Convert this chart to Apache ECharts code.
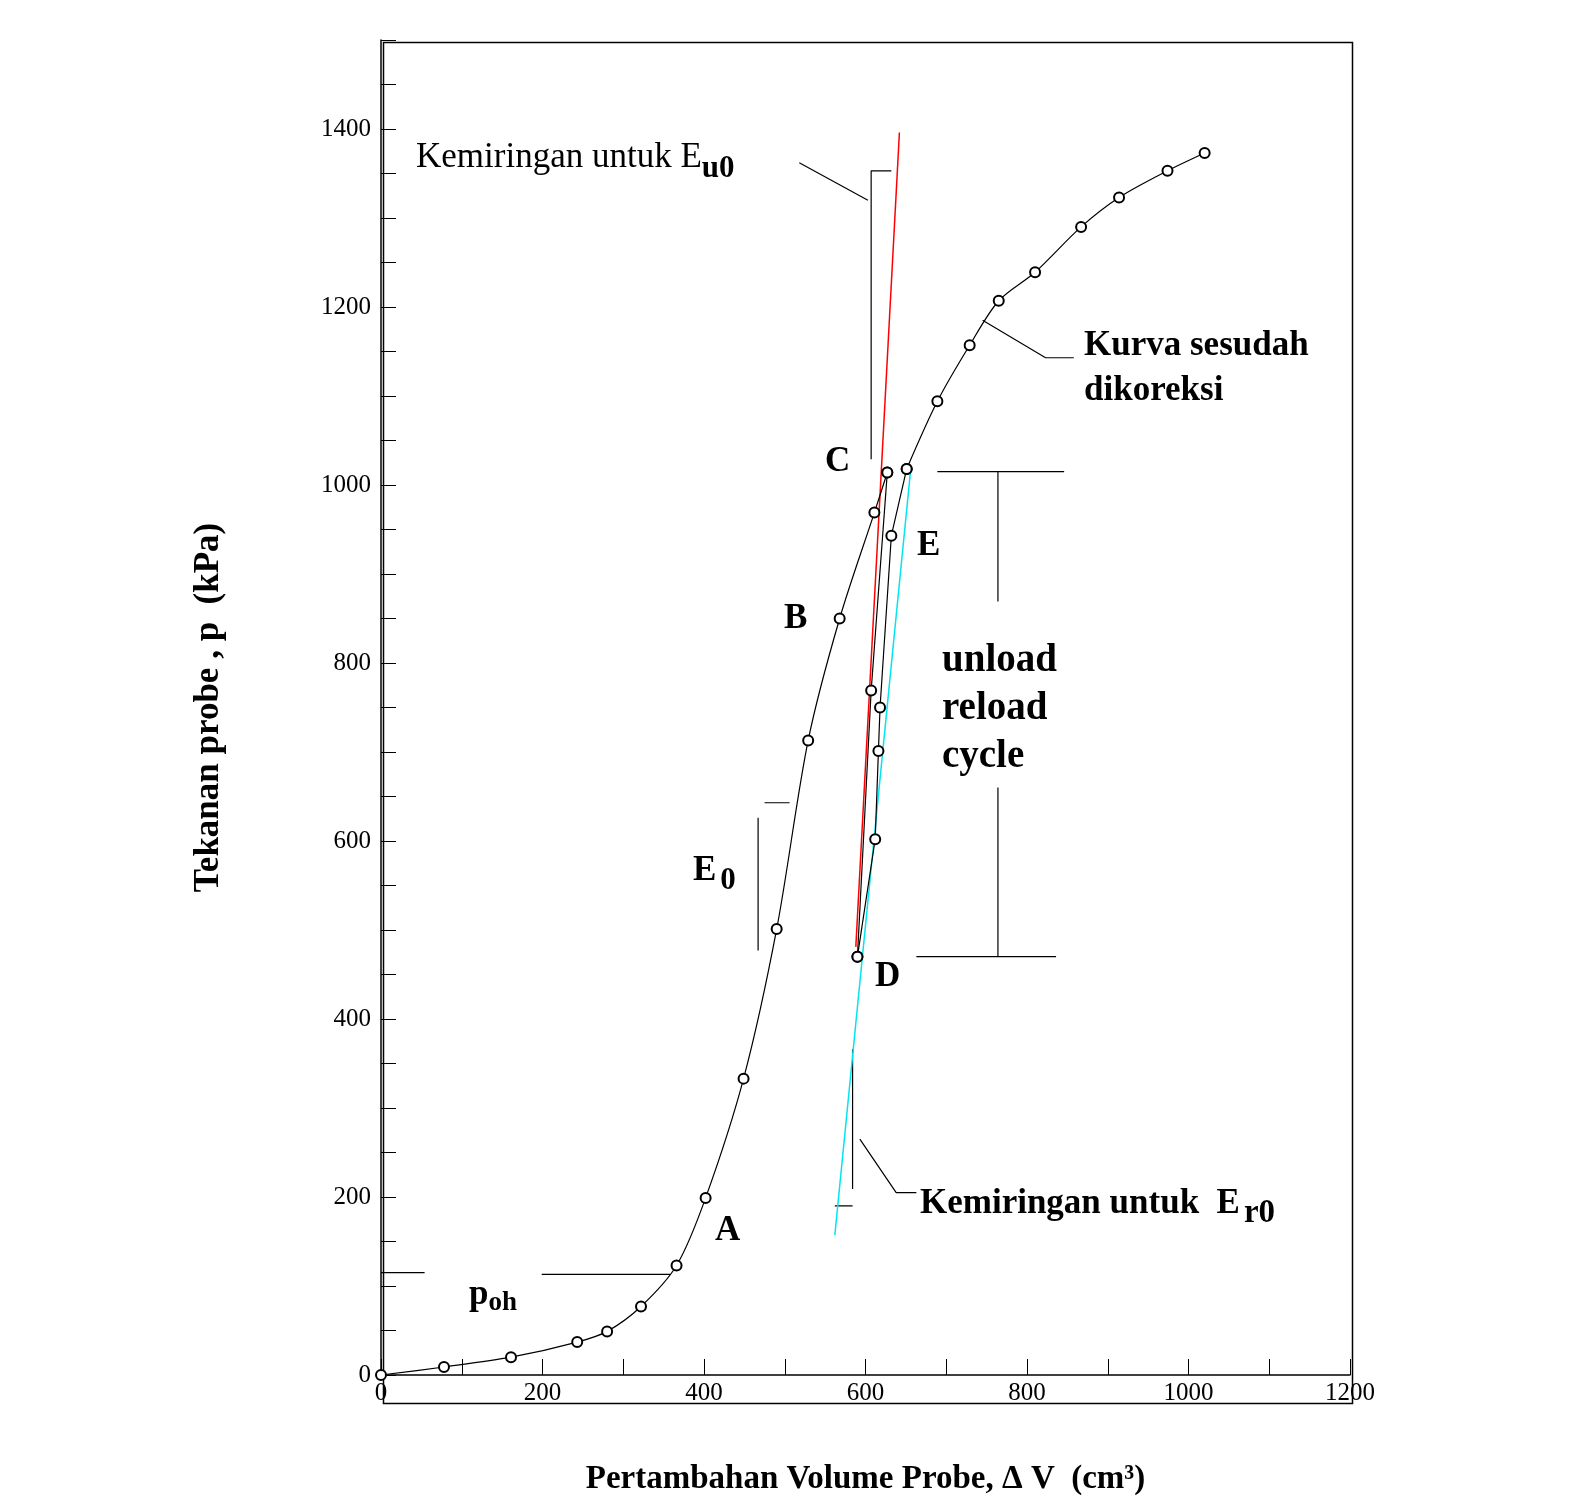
<!DOCTYPE html>
<html>
<head>
<meta charset="utf-8">
<script src="https://cdn.jsdelivr.net/npm/echarts@6/dist/echarts.min.js"></script>
<style>html,body{margin:0;background:#fff}#main{width:1592px;height:1501px}</style>
</head>
<body>
<div id="main"></div>
<script>
// kurva pembebanan awal (sampai titik C)
var loadX = [0, 78, 161, 243, 280, 322, 366, 402, 449, 490, 529, 568, 611, 627];
var loadY = [0, 9, 20, 37, 49, 77, 123, 199, 333, 501, 713, 850, 969, 1014];
// unload C -> D
var unloadX = [627, 607, 590];
var unloadY = [1014, 769, 470];
// reload D -> E
var reloadX = [590, 612, 616, 618, 632, 651];
var reloadY = [470, 602, 701, 750, 943, 1018];
// lanjutan sesudah E
var contX = [651, 689, 729, 765, 810, 867, 914, 974, 1020];
var contY = [1018, 1094, 1157, 1207, 1239, 1290, 1323, 1353, 1373];
// garis kemiringan
var eu0Line = [[588, 481], [642, 1396]];
var er0Line = [[562, 157], [656, 1018]];
// garis bantu anotasi
var guides = [
  [[518, 1362], [603, 1320]],
  [[607, 1029], [607, 1353], [632, 1353]],
  [[745, 1185], [823, 1143], [858, 1143]],
  [[689, 1015], [846, 1015]],
  [[764, 1015], [764, 869]],
  [[764, 660], [764, 470]],
  [[663, 470], [836, 470]],
  [[475, 643], [506, 643]],
  [[467, 626], [467, 477]],
  [[0, 115], [54, 115]],
  [[199, 113], [358, 113]],
  [[584, 366], [584, 209]],
  [[562, 190], [584, 190]],
  [[593, 265], [638, 205], [663, 205]]
];

function zip(xs, ys) { return xs.map(function (x, i) { return [x, ys[i]]; }); }

var serif = 'Liberation Serif';
var series = [];
guides.forEach(function (g) {
  series.push({type: 'line', data: g, symbol: 'none', silent: true,
    lineStyle: {color: '#000', width: 1.2}});
});
series.push({type: 'line', data: eu0Line, symbol: 'none', lineStyle: {color: '#ff0000', width: 1.5}});
series.push({type: 'line', data: er0Line, symbol: 'none', lineStyle: {color: '#00e5ee', width: 1.5}});
[[loadX, loadY, 0.3], [unloadX, unloadY, 0], [reloadX, reloadY, 0], [contX, contY, 0.3]].forEach(function (s) {
  series.push({type: 'line', data: zip(s[0], s[1]), smooth: s[2], symbol: 'emptyCircle', symbolSize: 10,
    itemStyle: {color: '#000', borderWidth: 1}, lineStyle: {color: '#000', width: 1.2}});
});

var k = 1.015;
var big = {fontFamily: serif, fontWeight: 'bold', fontSize: 35, fill: '#000'};
function txt(x, y, t, extra) {
  var st = Object.assign({}, big, {text: t}, extra || {});
  return {type: 'text', left: Math.round(x * k), top: Math.round(y * k), style: st};
}
var graphic = [
  txt(410, 138, 'Kemiringan untuk E{s|u0}', {fontWeight: 'normal',
    rich: {s: {fontFamily: serif, fontWeight: 'bold', fontSize: 31, padding: [22, 0, 0, 0]}}}),
  txt(1068, 318, 'Kurva sesudah\ndikoreksi', {lineHeight: 45}),
  txt(813, 437, 'C'), txt(903, 520, 'E'), txt(772, 592, 'B'), txt(862, 945, 'D'), txt(704, 1195, 'A'),
  txt(928, 628, 'unload\nreload\ncycle', {fontSize: 39, lineHeight: 48}),
  txt(683, 840, 'E{s|0}', {rich: {s: {fontFamily: serif, fontWeight: 'bold', fontSize: 31, padding: [20, 0, 0, 4]}}}),
  txt(462, 1258, 'p{s|oh}', {rich: {s: {fontFamily: serif, fontWeight: 'bold', fontSize: 27, padding: [18, 0, 0, 0]}}}),
  txt(906, 1168, 'Kemiringan untuk  E{s|r0}', {rich: {s: {fontFamily: serif, fontWeight: 'bold', fontSize: 33, padding: [20, 0, 0, 4]}}})
];

var chart = echarts.init(document.getElementById('main'));
chart.setOption({
  animation: false,
  grid: {left: 381, right: 242, top: 40, bottom: 100},
  xAxis: {type: 'value', min: 0, max: 1200, interval: 200,
    name: 'Pertambahan Volume Probe, \u0394 V  (cm\u00b3)', nameLocation: 'middle', nameGap: 88,
    nameTextStyle: {fontFamily: serif, fontWeight: 'bold', fontSize: 33, color: '#000'},
    axisLine: {onZero: false, lineStyle: {color: '#000', width: 1.5}},
    axisTick: {inside: true, length: 16, lineStyle: {color: '#000'}},
    minorTick: {show: true, splitNumber: 2, length: 16, lineStyle: {color: '#000'}},
    axisLabel: {fontFamily: serif, fontSize: 25, color: '#000', margin: 6,
      formatter: function (v) { return String(v); }},
    splitLine: {show: false}},
  yAxis: {type: 'value', min: 0, max: 1500, interval: 200,
    name: 'Tekanan probe , p  (kPa)', nameLocation: 'middle', nameGap: 155, nameRotate: 90,
    nameTextStyle: {fontFamily: serif, fontWeight: 'bold', fontSize: 35, color: '#000'},
    axisLine: {onZero: false, lineStyle: {color: '#000', width: 1.5}},
    axisTick: {inside: true, length: 15, lineStyle: {color: '#000'}},
    minorTick: {show: true, splitNumber: 4, length: 15, lineStyle: {color: '#000'}},
    axisLabel: {fontFamily: serif, fontSize: 25, color: '#000', margin: 10, showMaxLabel: false,
      formatter: function (v) { return v % 200 === 0 ? String(v) : ''; }},
    splitLine: {show: false}},
  graphic: graphic.concat([{type: 'rect', left: 381, top: 40, shape: {width: 969, height: 1361},
    style: {fill: 'none', stroke: '#000', lineWidth: 1.5}, silent: true}]),
  series: series
});
</script>
</body>
</html>
